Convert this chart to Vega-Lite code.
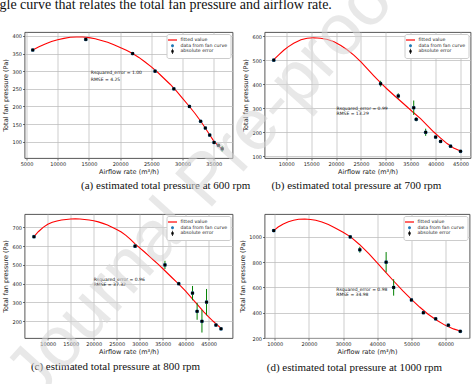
{
  "$schema": "https://vega.github.io/schema/vega-lite/v6.json",
  "padding": {"left": -7.5, "top": -52, "right": 0, "bottom": 0},
  "background": "white",
  "config": {
    "view": {"stroke": "#444444", "strokeWidth": 0.9},
    "axis": {"labelFont": "DejaVu Sans", "labelFontSize": 5, "labelColor": "#222222", "titleFont": "DejaVu Sans", "titleFontSize": 6.5, "titleFontWeight": "normal", "titleColor": "#222222", "tickSize": 2, "tickColor": "#333333", "tickWidth": 0.7, "tickCount": 40, "labelPadding": 1, "grid": true, "gridColor": "#b8b8b8", "gridWidth": 0.7, "domain": false, "labelFlush": false, "labelOverlap": false, "format": "d"},
    "axisY": {"titlePadding": 3.5},
    "axisX": {"titlePadding": 2},
    "legend": {"orient": "top-right", "offset": 2, "padding": 3, "rowPadding": 0.7, "labelFont": "DejaVu Sans", "labelFontSize": 4.7, "labelColor": "#222222", "labelOffset": 5, "symbolSize": 36, "symbolStrokeWidth": 0, "strokeColor": "#cccccc", "fillColor": "white", "cornerRadius": 2, "symbolOpacity": 1},
    "title": {"orient": "bottom", "anchor": "middle", "frame": "bounds", "font": "Liberation Serif", "fontSize": 11, "fontWeight": "normal", "color": "#111111", "offset": 5}
  },
  "datasets": {
    "leg": [{"item": "fitted value"}, {"item": "data from fan curve"}, {"item": "absolute error"}],
    "one": [{"k": 1}],
    "curveA": [
      {"x": 6000, "y": 360}, {"x": 7000, "y": 369}, {"x": 8000, "y": 377}, {"x": 9000, "y": 384}, {"x": 10000, "y": 389},
      {"x": 11000, "y": 393}, {"x": 12000, "y": 396}, {"x": 13000, "y": 397}, {"x": 14000, "y": 397}, {"x": 15000, "y": 395},
      {"x": 16000, "y": 392}, {"x": 17000, "y": 387}, {"x": 18000, "y": 382}, {"x": 19000, "y": 375}, {"x": 20000, "y": 367},
      {"x": 21000, "y": 359}, {"x": 22000, "y": 350}, {"x": 23000, "y": 339}, {"x": 24000, "y": 326}, {"x": 25000, "y": 312},
      {"x": 26000, "y": 297}, {"x": 27000, "y": 280}, {"x": 28000, "y": 263}, {"x": 29000, "y": 244}, {"x": 30000, "y": 223},
      {"x": 31000, "y": 202}, {"x": 32000, "y": 180}, {"x": 33000, "y": 156}, {"x": 34000, "y": 129}, {"x": 35000, "y": 102},
      {"x": 35700, "y": 89}, {"x": 36340, "y": 79}
    ],
    "ptsA": [
      {"x": 6000, "y": 360}, {"x": 14500, "y": 390}, {"x": 22000, "y": 350}, {"x": 25600, "y": 300}, {"x": 28600, "y": 250},
      {"x": 31100, "y": 200}, {"x": 32900, "y": 158}, {"x": 33650, "y": 139}, {"x": 34350, "y": 119}, {"x": 35050, "y": 98},
      {"x": 35750, "y": 90}, {"x": 36350, "y": 80}
    ],
    "errA": [{"x": 36350, "lo": 72, "hi": 88}],
    "curveB": [
      {"x": 7500, "y": 502}, {"x": 8500, "y": 522}, {"x": 9500, "y": 541}, {"x": 10300, "y": 554}, {"x": 11500, "y": 570},
      {"x": 12960, "y": 585}, {"x": 14200, "y": 591}, {"x": 15500, "y": 593}, {"x": 16900, "y": 591}, {"x": 18300, "y": 586},
      {"x": 19600, "y": 576}, {"x": 20970, "y": 561}, {"x": 22300, "y": 542}, {"x": 23630, "y": 520}, {"x": 25000, "y": 493},
      {"x": 26300, "y": 464}, {"x": 27600, "y": 435}, {"x": 28970, "y": 405}, {"x": 30300, "y": 379}, {"x": 31630, "y": 354},
      {"x": 33000, "y": 329}, {"x": 34300, "y": 305}, {"x": 35600, "y": 281}, {"x": 36970, "y": 257}, {"x": 38300, "y": 229},
      {"x": 39630, "y": 201}, {"x": 41000, "y": 176}, {"x": 42300, "y": 153}, {"x": 43600, "y": 135}, {"x": 45000, "y": 122}
    ],
    "ptsB": [
      {"x": 7500, "y": 500}, {"x": 28950, "y": 402}, {"x": 32500, "y": 351}, {"x": 35600, "y": 302}, {"x": 36100, "y": 254},
      {"x": 38000, "y": 200}, {"x": 40000, "y": 180}, {"x": 41000, "y": 162}, {"x": 43000, "y": 142}, {"x": 45000, "y": 121}
    ],
    "errB": [
      {"x": 28950, "lo": 390, "hi": 414}, {"x": 32500, "lo": 340, "hi": 362}, {"x": 35600, "lo": 272, "hi": 332},
      {"x": 36100, "lo": 246, "hi": 262}, {"x": 38000, "lo": 185, "hi": 215}
    ],
    "curveC": [
      {"x": 7000, "y": 651}, {"x": 8000, "y": 678}, {"x": 9000, "y": 700}, {"x": 10000, "y": 716}, {"x": 11000, "y": 727},
      {"x": 12000, "y": 734}, {"x": 13000, "y": 739}, {"x": 14000, "y": 742}, {"x": 15000, "y": 744}, {"x": 16000, "y": 745},
      {"x": 17000, "y": 744}, {"x": 18000, "y": 742}, {"x": 19000, "y": 739}, {"x": 20000, "y": 735}, {"x": 21000, "y": 729},
      {"x": 22000, "y": 721}, {"x": 23000, "y": 712}, {"x": 24000, "y": 701}, {"x": 25000, "y": 689}, {"x": 26000, "y": 675},
      {"x": 27000, "y": 657}, {"x": 28000, "y": 636}, {"x": 29000, "y": 612}, {"x": 30000, "y": 591}, {"x": 31000, "y": 570},
      {"x": 32000, "y": 548}, {"x": 33000, "y": 526}, {"x": 34000, "y": 504}, {"x": 35000, "y": 481}, {"x": 36000, "y": 457},
      {"x": 37000, "y": 433}, {"x": 38000, "y": 410}, {"x": 39000, "y": 386}, {"x": 40000, "y": 360}, {"x": 41000, "y": 333},
      {"x": 42000, "y": 305}, {"x": 43000, "y": 277}, {"x": 44000, "y": 249}, {"x": 45000, "y": 223}, {"x": 46000, "y": 200},
      {"x": 47000, "y": 178}, {"x": 47700, "y": 163}
    ],
    "ptsC": [
      {"x": 7000, "y": 650}, {"x": 29000, "y": 600}, {"x": 35500, "y": 500}, {"x": 38500, "y": 400}, {"x": 41500, "y": 350},
      {"x": 42500, "y": 253}, {"x": 43550, "y": 200}, {"x": 44550, "y": 302}, {"x": 46600, "y": 180}, {"x": 47700, "y": 160}
    ],
    "errC": [
      {"x": 29000, "lo": 590, "hi": 610}, {"x": 35500, "lo": 478, "hi": 522}, {"x": 41500, "lo": 312, "hi": 388},
      {"x": 42500, "lo": 208, "hi": 298}, {"x": 43550, "lo": 140, "hi": 260}, {"x": 44550, "lo": 232, "hi": 372}
    ],
    "curveD": [
      {"x": 9700, "y": 1050}, {"x": 11000, "y": 1078}, {"x": 12500, "y": 1102}, {"x": 14000, "y": 1120}, {"x": 15500, "y": 1132},
      {"x": 17000, "y": 1139}, {"x": 18800, "y": 1141}, {"x": 20500, "y": 1138}, {"x": 22000, "y": 1131}, {"x": 23800, "y": 1118},
      {"x": 25700, "y": 1098}, {"x": 27700, "y": 1071}, {"x": 30000, "y": 1037}, {"x": 32200, "y": 1000}, {"x": 34800, "y": 940},
      {"x": 37600, "y": 866}, {"x": 40000, "y": 795}, {"x": 42500, "y": 720}, {"x": 45000, "y": 645}, {"x": 47500, "y": 572},
      {"x": 50000, "y": 505}, {"x": 52400, "y": 445}, {"x": 54800, "y": 390}, {"x": 57300, "y": 342}, {"x": 59800, "y": 302},
      {"x": 62300, "y": 272}, {"x": 64300, "y": 256}
    ],
    "ptsD": [
      {"x": 9700, "y": 1050}, {"x": 32100, "y": 1000}, {"x": 34900, "y": 898}, {"x": 42600, "y": 800}, {"x": 44800, "y": 600},
      {"x": 50000, "y": 501}, {"x": 53500, "y": 400}, {"x": 57100, "y": 352}, {"x": 60800, "y": 301}, {"x": 64300, "y": 253}
    ],
    "errD": [
      {"x": 32100, "lo": 990, "hi": 1010}, {"x": 34900, "lo": 875, "hi": 922}, {"x": 42600, "lo": 720, "hi": 880},
      {"x": 44800, "lo": 535, "hi": 665}, {"x": 60800, "lo": 292, "hi": 310}
    ]
  },
  "resolve": {"scale": {"fill": "independent", "shape": "independent"}},
  "columns": 2,
  "bounds": "flush",
  "spacing": {"row": 56, "column": 32},
  "concat": [
    {
      "width": 208, "height": 126,
      "title": {"text": "(a) estimated total pressure at 600 rpm"},
      "layer": [
        {"data": {"name": "curveA"}, "mark": {"type": "line", "color": "#ff0000", "strokeWidth": 1.1},
         "encoding": {
           "x": {"field": "x", "type": "quantitative", "scale": {"domain": [4680, 38000], "nice": false, "zero": false}, "axis": {"values": [5000, 10000, 15000, 20000, 25000, 30000, 35000], "title": "Airflow rate (m³/h)"}},
           "y": {"field": "y", "type": "quantitative", "scale": {"domain": [54, 411], "nice": false, "zero": false}, "axis": {"values": [100, 150, 200, 250, 300, 350, 400], "title": "Total fan pressure (Pa)"}}}},
        {"data": {"name": "errA"}, "mark": {"type": "rule", "color": "#008000", "strokeWidth": 1},
         "encoding": {"x": {"field": "x", "type": "quantitative"}, "y": {"field": "lo", "type": "quantitative"}, "y2": {"field": "hi"}}},
        {"data": {"name": "ptsA"}, "mark": {"type": "point", "filled": true, "shape": "circle", "color": "#1f77b4", "size": 14, "opacity": 1},
         "encoding": {"x": {"field": "x", "type": "quantitative"}, "y": {"field": "y", "type": "quantitative"}}},
        {"data": {"name": "ptsA"}, "mark": {"type": "point", "filled": true, "shape": "square", "color": "#000000", "size": 8, "opacity": 1},
         "encoding": {"x": {"field": "x", "type": "quantitative"}, "y": {"field": "y", "type": "quantitative"}}},
        {"data": {"name": "one"}, "mark": {"type": "text", "text": ["Rsquared_error = 1.00", "RMSE = 4.25"], "align": "left", "baseline": "middle", "font": "DejaVu Sans", "fontSize": 4.5, "lineHeight": 7.5, "color": "#111111"},
         "encoding": {"x": {"datum": 15300}, "y": {"datum": 295}}},
        {"data": {"name": "one"}, "mark": {"type": "text", "text": "gle curve that relates the total fan pressure and airflow rate.", "align": "left", "baseline": "alphabetic", "font": "Liberation Serif", "fontSize": 14, "color": "#111111"},
         "encoding": {"x": {"datum": 676}, "y": {"datum": 475}}},
        {"data": {"name": "leg"}, "mark": {"type": "point", "filled": true, "opacity": 0},
         "encoding": {
           "fill": {"field": "item", "type": "nominal", "scale": {"domain": ["fitted value", "data from fan curve", "absolute error"], "range": ["#ff0000", "#1f77b4", "#000000"]}, "legend": {"title": null}},
           "shape": {"field": "item", "type": "nominal", "scale": {"domain": ["fitted value", "data from fan curve", "absolute error"], "range": ["M-1.5,-0.2L1.5,-0.2L1.5,0.2L-1.5,0.2Z", "M-0.5,0A0.5,0.5 0 1,0 0.5,0A0.5,0.5 0 1,0 -0.5,0Z", "M-0.12,-0.9L0.12,-0.9L0.12,0.9L-0.12,0.9ZM-0.4,-0.4L0.4,-0.4L0.4,0.4L-0.4,0.4Z"]}, "legend": {"title": null}}}}
      ]
    },
    {
      "width": 206, "height": 126,
      "title": {"text": "(b) estimated total pressure at 700 rpm"},
      "layer": [
        {"data": {"name": "curveB"}, "mark": {"type": "line", "color": "#ff0000", "strokeWidth": 1.1},
         "encoding": {
           "x": {"field": "x", "type": "quantitative", "scale": {"domain": [5640, 47000], "nice": false, "zero": false}, "axis": {"values": [10000, 15000, 20000, 25000, 30000, 35000, 40000, 45000], "title": "Airflow rate (m³/h)"}},
           "y": {"field": "y", "type": "quantitative", "scale": {"domain": [93, 617], "nice": false, "zero": false}, "axis": {"values": [100, 200, 300, 400, 500, 600], "title": "Total fan pressure (Pa)"}}}},
        {"data": {"name": "errB"}, "mark": {"type": "rule", "color": "#008000", "strokeWidth": 1},
         "encoding": {"x": {"field": "x", "type": "quantitative"}, "y": {"field": "lo", "type": "quantitative"}, "y2": {"field": "hi"}}},
        {"data": {"name": "ptsB"}, "mark": {"type": "point", "filled": true, "shape": "circle", "color": "#1f77b4", "size": 14, "opacity": 1},
         "encoding": {"x": {"field": "x", "type": "quantitative"}, "y": {"field": "y", "type": "quantitative"}}},
        {"data": {"name": "ptsB"}, "mark": {"type": "point", "filled": true, "shape": "square", "color": "#000000", "size": 8, "opacity": 1},
         "encoding": {"x": {"field": "x", "type": "quantitative"}, "y": {"field": "y", "type": "quantitative"}}},
        {"data": {"name": "one"}, "mark": {"type": "text", "text": ["Rsquared_error = 0.99", "RMSE = 13.29"], "align": "left", "baseline": "middle", "font": "DejaVu Sans", "fontSize": 4.5, "lineHeight": 5, "color": "#111111"},
         "encoding": {"x": {"datum": 20100}, "y": {"datum": 297}}},
        {"data": {"name": "leg"}, "mark": {"type": "point", "filled": true, "opacity": 0},
         "encoding": {
           "fill": {"field": "item", "type": "nominal", "scale": {"domain": ["fitted value", "data from fan curve", "absolute error"], "range": ["#ff0000", "#1f77b4", "#000000"]}, "legend": {"title": null}},
           "shape": {"field": "item", "type": "nominal", "scale": {"domain": ["fitted value", "data from fan curve", "absolute error"], "range": ["M-1.5,-0.2L1.5,-0.2L1.5,0.2L-1.5,0.2Z", "M-0.5,0A0.5,0.5 0 1,0 0.5,0A0.5,0.5 0 1,0 -0.5,0Z", "M-0.12,-0.9L0.12,-0.9L0.12,0.9L-0.12,0.9ZM-0.4,-0.4L0.4,-0.4L0.4,0.4L-0.4,0.4Z"]}, "legend": {"title": null}}}}
      ]
    },
    {
      "width": 208, "height": 124,
      "layer": [
        {"data": {"name": "curveC"}, "mark": {"type": "line", "color": "#ff0000", "strokeWidth": 1.1},
         "encoding": {
           "x": {"field": "x", "type": "quantitative", "scale": {"domain": [4940, 50200], "nice": false, "zero": false}, "axis": {"values": [10000, 15000, 20000, 25000, 30000, 35000, 40000, 45000], "title": "Airflow rate (m³/h)"}},
           "y": {"field": "y", "type": "quantitative", "scale": {"domain": [111, 771], "nice": false, "zero": false}, "axis": {"values": [200, 300, 400, 500, 600, 700], "title": "Total fan pressure (Pa)"}}}},
        {"data": {"name": "errC"}, "mark": {"type": "rule", "color": "#008000", "strokeWidth": 1},
         "encoding": {"x": {"field": "x", "type": "quantitative"}, "y": {"field": "lo", "type": "quantitative"}, "y2": {"field": "hi"}}},
        {"data": {"name": "ptsC"}, "mark": {"type": "point", "filled": true, "shape": "circle", "color": "#1f77b4", "size": 14, "opacity": 1},
         "encoding": {"x": {"field": "x", "type": "quantitative"}, "y": {"field": "y", "type": "quantitative"}}},
        {"data": {"name": "ptsC"}, "mark": {"type": "point", "filled": true, "shape": "square", "color": "#000000", "size": 8, "opacity": 1},
         "encoding": {"x": {"field": "x", "type": "quantitative"}, "y": {"field": "y", "type": "quantitative"}}},
        {"data": {"name": "one"}, "mark": {"type": "text", "text": ["Rsquared_error = 0.96", "RMSE = 37.32"], "align": "left", "baseline": "middle", "font": "DejaVu Sans", "fontSize": 4.5, "lineHeight": 4.8, "color": "#111111"},
         "encoding": {"x": {"datum": 20000}, "y": {"datum": 418}}},
        {"data": {"name": "one"}, "mark": {"type": "text", "text": "(c) estimated total pressure at 800 rpm", "align": "center", "baseline": "middle", "font": "Liberation Serif", "fontSize": 11, "color": "#111111"},
         "encoding": {"x": {"datum": 24740}, "y": {"datum": -43}}},
        {"data": {"name": "one"}, "mark": {"type": "text", "text": "Journal Pre-proof", "align": "center", "baseline": "middle", "font": "Liberation Sans", "fontSize": 72, "angle": -48, "color": "#d6d6d6", "opacity": 0.55},
         "encoding": {"x": {"datum": 44540}, "y": {"datum": 952}}},
        {"data": {"name": "leg"}, "mark": {"type": "point", "filled": true, "opacity": 0},
         "encoding": {
           "fill": {"field": "item", "type": "nominal", "scale": {"domain": ["fitted value", "data from fan curve", "absolute error"], "range": ["#ff0000", "#1f77b4", "#000000"]}, "legend": {"title": null}},
           "shape": {"field": "item", "type": "nominal", "scale": {"domain": ["fitted value", "data from fan curve", "absolute error"], "range": ["M-1.5,-0.2L1.5,-0.2L1.5,0.2L-1.5,0.2Z", "M-0.5,0A0.5,0.5 0 1,0 0.5,0A0.5,0.5 0 1,0 -0.5,0Z", "M-0.12,-0.9L0.12,-0.9L0.12,0.9L-0.12,0.9ZM-0.4,-0.4L0.4,-0.4L0.4,0.4L-0.4,0.4Z"]}, "legend": {"title": null}}}}
      ]
    },
    {
      "width": 205, "height": 124,
      "title": {"text": "(d) estimated total pressure at 1000 rpm", "offset": 7},
      "layer": [
        {"data": {"name": "curveD"}, "mark": {"type": "line", "color": "#ff0000", "strokeWidth": 1.1},
         "encoding": {
           "x": {"field": "x", "type": "quantitative", "scale": {"domain": [7000, 67000], "nice": false, "zero": false}, "axis": {"values": [10000, 20000, 30000, 40000, 50000, 60000], "title": "Airflow rate (m³/h)"}},
           "y": {"field": "y", "type": "quantitative", "scale": {"domain": [200, 1181], "nice": false, "zero": false}, "axis": {"values": [200, 400, 600, 800, 1000], "title": "Total fan pressure (Pa)"}}}},
        {"data": {"name": "errD"}, "mark": {"type": "rule", "color": "#008000", "strokeWidth": 1},
         "encoding": {"x": {"field": "x", "type": "quantitative"}, "y": {"field": "lo", "type": "quantitative"}, "y2": {"field": "hi"}}},
        {"data": {"name": "ptsD"}, "mark": {"type": "point", "filled": true, "shape": "circle", "color": "#1f77b4", "size": 14, "opacity": 1},
         "encoding": {"x": {"field": "x", "type": "quantitative"}, "y": {"field": "y", "type": "quantitative"}}},
        {"data": {"name": "ptsD"}, "mark": {"type": "point", "filled": true, "shape": "square", "color": "#000000", "size": 8, "opacity": 1},
         "encoding": {"x": {"field": "x", "type": "quantitative"}, "y": {"field": "y", "type": "quantitative"}}},
        {"data": {"name": "one"}, "mark": {"type": "text", "text": ["Rsquared_error = 0.98", "RMSE = 34.98"], "align": "left", "baseline": "middle", "font": "DejaVu Sans", "fontSize": 4.5, "lineHeight": 5, "color": "#111111"},
         "encoding": {"x": {"datum": 28000}, "y": {"datum": 582}}},
        {"data": {"name": "leg"}, "mark": {"type": "point", "filled": true, "opacity": 0},
         "encoding": {
           "fill": {"field": "item", "type": "nominal", "scale": {"domain": ["fitted value", "data from fan curve", "absolute error"], "range": ["#ff0000", "#1f77b4", "#000000"]}, "legend": {"title": null}},
           "shape": {"field": "item", "type": "nominal", "scale": {"domain": ["fitted value", "data from fan curve", "absolute error"], "range": ["M-1.5,-0.2L1.5,-0.2L1.5,0.2L-1.5,0.2Z", "M-0.5,0A0.5,0.5 0 1,0 0.5,0A0.5,0.5 0 1,0 -0.5,0Z", "M-0.12,-0.9L0.12,-0.9L0.12,0.9L-0.12,0.9ZM-0.4,-0.4L0.4,-0.4L0.4,0.4L-0.4,0.4Z"]}, "legend": {"title": null}}}}
      ]
    }
  ]
}
